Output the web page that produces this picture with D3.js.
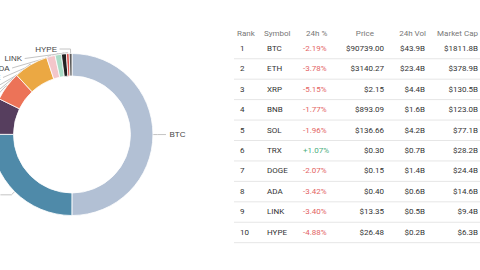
<!DOCTYPE html>
<meta charset="utf-8">
<style>
  body { margin: 0; background: #fff; }
  .tbl text { font-family: Roboto, sans-serif; font-size: 8px; }
  .lbl text { font-family: "Liberation Sans", Arial, sans-serif; font-size: 8px; fill: #444; }
  .lines polyline { fill: none; stroke: #c4c4c4; stroke-width: 1px; }
</style>
<body>
<svg width="480" height="270"></svg>
<script src="https://d3js.org/d3.v7.min.js"></script>
<script>

// table data
var ranks = [1, 2, 3, 4, 5, 6, 7, 8, 9, 10];
var symbols = ["BTC", "ETH", "XRP", "BNB", "SOL", "TRX", "DOGE", "ADA", "LINK", "HYPE"];
var change24h = [-2.19, -3.78, -5.15, -1.77, -1.96, 1.07, -2.07, -3.42, -3.40, -4.88];
var prices = [90739.00, 3140.27, 2.15, 893.09, 136.66, 0.30, 0.15, 0.40, 13.35, 26.48];
var volumes = [43.9, 23.4, 4.4, 1.6, 4.2, 0.7, 1.4, 0.6, 0.5, 0.2];
var marketCaps = [1811.8, 378.9, 130.5, 123.0, 77.1, 28.2, 24.4, 14.6, 9.4, 6.3];

// share of the donut (%)
var pieShare = [50, 25, 7.2, 5.8, 6.9, 1.7, 1.25, 1.0, 0.55, 0.55];

var palette = ["#b2c0d4", "#4f8aa9", "#563e5e", "#ec7358", "#eba843",
               "#f3c6ca", "#a9dcc6", "#222222", "#d9534f", "#5a5a5a"];

var svg = d3.select("svg");

// ---- donut ----
var cx = 72, cy = 134.5, rOut = 81, rIn = 58.5;

var pieData = d3.pie().sort(null).value(function (d) { return d.v; })(
  symbols.map(function (s, i) { return { sym: s, v: pieShare[i], i: i }; })
);

var arc = d3.arc().innerRadius(rIn).outerRadius(rOut);

function polar(r, a) {
  return [cx + r * Math.sin(a), cy - r * Math.cos(a)];
}

// label layout: elbow just outside the ring, left side pushed apart
var labels = pieData.map(function (d) {
  var mid = (d.startAngle + d.endAngle) / 2;
  var e = polar(rOut + 4.5, mid);
  return { d: d, mid: mid, right: mid < Math.PI, base: e[1], y: e[1], ex: e[0] };
});

var left = labels.filter(function (l) { return !l.right; })
  .sort(function (a, b) { return a.base - b.base; });
for (var k = 1; k < left.length; k++) {
  if (left[k].y < left[k - 1].y + 9.5) left[k].y = left[k - 1].y + 9.5;
}

labels.forEach(function (l) {
  l.shifted = l.y - l.base > 0.5;
  if (l.shifted) {
    var dy = cy - l.y;
    l.x = cx - Math.sqrt(Math.max(0, 89.5 * 89.5 - dy * dy));
  } else {
    l.x = l.right ? l.ex + 8.5 : l.ex - 11;
  }
  var pts = [polar(rOut - 4, l.mid)];
  if (l.shifted) pts.push(polar(rOut + 1, l.mid));
  else pts.push([l.ex, l.y]);
  pts.push([l.x, l.y]);
  l.pts = pts;
});

svg.append("g").attr("class", "lines")
  .selectAll("polyline")
  .data(labels)
  .enter().append("polyline")
  .attr("points", function (l) { return l.pts.map(function (p) { return p.join(","); }).join(" "); });

svg.append("g")
  .attr("transform", "translate(" + cx + "," + cy + ")")
  .selectAll("path")
  .data(pieData)
  .enter().append("path")
  .attr("d", arc)
  .attr("fill", function (d) { return palette[d.data.i]; })
  .attr("stroke", "#fff")
  .attr("stroke-width", 0.8);

svg.append("g").attr("class", "lbl")
  .selectAll("text")
  .data(labels)
  .enter().append("text")
  .attr("x", function (l) { return l.right ? l.x + 3.5 : l.x - 2.5; })
  .attr("y", function (l) { return l.y; })
  .attr("dy", "0.35em")
  .attr("text-anchor", function (l) { return l.right ? "start" : "end"; })
  .text(function (l) { return l.d.data.sym; });

// ---- table ----
var fmt2 = d3.format(".2f"), fmt1 = d3.format(".1f");

var columns = [
  { header: "Rank", hx: 237, ha: "start", vx: 240, va: "start", val: function (i) { return ranks[i]; } },
  { header: "Symbol", hx: 264, ha: "start", vx: 267, va: "start", val: function (i) { return symbols[i]; } },
  { header: "24h %", hx: 306, ha: "start", vx: 303, va: "start",
    val: function (i) { return (change24h[i] > 0 ? "+" : "") + change24h[i].toFixed(2) + "%"; } },
  { header: "Price", hx: 374, ha: "end", vx: 384, va: "end", val: function (i) { return "$" + fmt2(prices[i]); } },
  { header: "24h Vol", hx: 426, ha: "end", vx: 425, va: "end", val: function (i) { return "$" + fmt1(volumes[i]) + "B"; } },
  { header: "Market Cap", hx: 478, ha: "end", vx: 478, va: "end", val: function (i) { return "$" + fmt1(marketCaps[i]) + "B"; } }
];

var y = d3.scaleBand().domain(ranks).range([37.8, 242.2]);

var tbl = svg.append("g").attr("class", "tbl");

tbl.selectAll("text.hdr")
  .data(columns)
  .enter().append("text")
  .attr("class", "hdr")
  .attr("x", function (c) { return c.hx; })
  .attr("y", 33)
  .attr("dy", "0.35em")
  .attr("text-anchor", function (c) { return c.ha; })
  .attr("fill", "#777")
  .text(function (c) { return c.header; });

var rows = tbl.selectAll("g.row")
  .data(ranks)
  .enter().append("g")
  .attr("class", "row")
  .attr("transform", function (r) { return "translate(0," + y(r) + ")"; });

rows.append("line")
  .attr("x1", 234).attr("x2", 480)
  .attr("y1", y.bandwidth() + 0.5).attr("y2", y.bandwidth() + 0.5)
  .attr("stroke", "#e6e6e6");

columns.forEach(function (c, ci) {
  rows.append("text")
    .attr("x", c.vx)
    .attr("y", y.bandwidth() / 2)
    .attr("dy", "0.35em")
    .attr("text-anchor", c.va)
    .attr("fill", function (r, i) {
      if (ci === 2) return change24h[i] > 0 ? "#4cae7e" : "#e36363";
      return "#333";
    })
    .text(function (r, i) { return c.val(i); });
});

</script>
</body>
